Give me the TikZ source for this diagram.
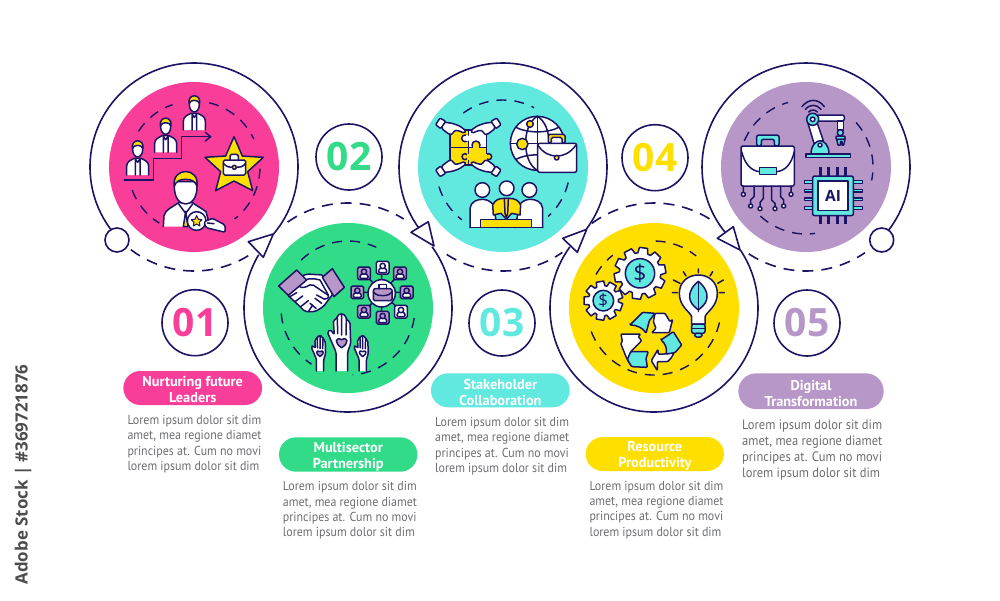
\documentclass[tikz,border=0pt]{standalone}
\usepackage{fontspec}
\setmainfont{PT Sans}[FakeStretch=0.92]
\newfontfamily\pillf{PT Sans}
\newfontfamily\numf{Open Sans}[Scale=1]
\newfontfamily\markf{Open Sans}
\definecolor{nv}{HTML}{1B1464}
\definecolor{pk}{HTML}{F93E99}
\definecolor{gr}{HTML}{31DB88}
\definecolor{cy}{HTML}{61E9DF}
\definecolor{ye}{HTML}{FFDF00}
\definecolor{pu}{HTML}{B797C8}
\definecolor{tx}{HTML}{6D6E71}
\tikzset{
  ln/.style={draw=nv,line width=1.5pt,line join=round,line cap=round},
  ring/.style={draw=nv,line width=1.6pt},
  dsh/.style={draw=nv,line width=1.6pt,dash pattern=on 11pt off 8pt},
  idsh/.style={draw=nv,line width=1.4pt,dash pattern=on 10pt off 8pt},
  numc/.style={circle,draw=nv,line width=1.6pt,fill=white,minimum size=66pt,inner sep=0,font=\numf\bfseries\fontsize{39}{39}\selectfont},
  pill/.style={rounded corners=17pt,inner sep=0,align=center,text=white,font=\pillf\bfseries\fontsize{14.3}{16}\selectfont},
  body/.style={anchor=north west,inner sep=0,align=left,text=tx,font=\fontsize{13}{15.3}\selectfont},
  head/.style={draw=nv,line width=1.6pt,fill=white,line join=round},
}
\newcommand\strutp{\rule{0pt}{14pt}}
\newcommand\ringarc[5]{\draw[#1] ([shift={(#3:#4)}]#2) arc[start angle=#3,end angle=#5,radius=#4];}
\newcommand\smallp[2]{\begin{scope}[shift={(#1,#2)}]
  \draw[ln,fill=white] (-33,0) -- (-33,-26) .. controls (-33,-40) and (-22,-44) .. (-10,-50) -- (10,-50) .. controls (22,-44) and (33,-40) .. (33,-26) -- (33,0);
  \draw[ln] (-7,0) -- (-7,-48) -- (0,-38) -- (7,-48) -- (7,0);
  \draw[ln,fill=white] (0,-76) ellipse[x radius=15,y radius=22];
  \draw[ln,fill=ye] (-16,-80) .. controls (-20,-110) and (20,-110) .. (16,-80) .. controls (10,-92) and (-10,-92) .. (-16,-80) -- cycle;
\end{scope}}
\newcommand\handp[4]{\begin{scope}[shift={(#1,#2)},xscale=#3,yscale=#3]
  \draw[ln,fill=white,rounded corners=1.5pt] (-17,0) -- (-17,-57) -- (-43,-117) -- (-33,-124) -- (-22,-108) -- (-25,-152) -- (-14,-157) -- (-13,-167) -- (0,-172) -- (11,-167) -- (14,-155) -- (25,-147) -- (27,-82) -- (18,-57) -- (18,0);
  \draw[ln] (-13,-160) -- (-12,-112) (0,-172) -- (0,-108) (14,-155) -- (13,-108);
  \draw[ln,fill=#4] (0,-70) .. controls (-24,-84) and (-18,-104) .. (0,-94) .. controls (18,-104) and (24,-84) .. (0,-70) -- cycle;
\end{scope}}
\newcommand\tilep[3]{\begin{scope}[shift={(#1,#2)}]
  \draw[ln,fill=#3,rounded corners=1.5pt] (-19,-19) rectangle (19,19);
  \draw[ln,fill=white,rounded corners=1pt] (-12,15) -- (-12,6) -- (-5,1) -- (5,1) -- (12,6) -- (12,15) -- cycle;
  \draw[ln,fill=#3] (0,-5) circle[radius=8];
\end{scope}}
\newcommand\gearp[7]{% cx cy router rinner teeth rot innerr
  \draw[ln,fill=white] ({#1+#4*cos(#6)},{#2+#4*sin(#6)})
   \foreach \i [evaluate=\i as \a using {#6+\i*360/#5}] in {0,...,\numexpr#5-1\relax}{
    -- ({#1+#4*cos(\a+4)},{#2+#4*sin(\a+4)})
    -- ({#1+#3*cos(\a+9)},{#2+#3*sin(\a+9)})
    -- ({#1+#3*cos(\a+360/#5-9)},{#2+#3*sin(\a+360/#5-9)})
    -- ({#1+#4*cos(\a+360/#5-4)},{#2+#4*sin(\a+360/#5-4)})
   } -- cycle;
  \draw[ln,fill=cy] (#1,#2) circle[radius=#7];
}
\newcommand\puzhand{%
  \draw[ln,fill=white,rounded corners=1.5pt] (-76,-76) -- (-48,-72) -- (-26,-64) -- (-7,-50) -- (-12,-42) -- (-28,-50) -- (-44,-50) -- (-46,-40) -- (-56,-38) -- (-80,-56) -- cycle;
  \draw[ln,fill=white,rounded corners=1pt] (-98,-68) -- (-85,-88) -- (-68,-78) -- (-83,-56) -- cycle;
}
\begin{document}
\begin{tikzpicture}[x=1pt,y=-1pt]
\useasboundingbox (0,0) rectangle (1000,600);
\fill[white] (0,0) rectangle (1000,600);
% centres
\coordinate (c1) at (194,167);
\coordinate (c2) at (348,308);
\coordinate (c3) at (503,167);
\coordinate (c4) at (654,308);
\coordinate (c5) at (806,167);
% colour discs
\fill[pk] (c1) circle[radius=85];
\fill[gr] (c2) circle[radius=85];
\fill[cy] (c3) circle[radius=85];
\fill[ye] (c4) circle[radius=85];
\fill[pu] (c5) circle[radius=85];
% rings
\ringarc{ring}{c1}{136.5}{104}{400}
\ringarc{ring}{c2}{210.8}{104}{-36}
\ringarc{ring}{c3}{143.7}{104}{396.5}
\ringarc{ring}{c4}{216}{104}{-34}
\ringarc{ring}{c5}{140.6}{104}{397.5}
\ringarc{dsh}{c1}{127.4}{104}{55.5}
\ringarc{dsh}{c2}{234.9}{105}{302}
\ringarc{dsh}{c3}{122.8}{104}{55.2}
\ringarc{dsh}{c4}{233.7}{105}{302.8}
\ringarc{dsh}{c5}{123.4}{104}{55.5}
% arrowheads
\draw[head] (248.3,241.7) -- (273.3,234) -- (263.3,257.3) -- cycle;
\draw[head] (411,232.3) -- (428.3,221.7) -- (434,246) -- cycle;
\draw[head] (562.7,238.3) -- (586.7,229.3) -- (577.3,252.3) -- cycle;
\draw[head] (717.3,238.3) -- (733.3,226.7) -- (740,250) -- cycle;
% end circles
\node[circle,draw=nv,line width=1.6pt,fill=white,minimum size=24pt,inner sep=0] (startc) at (117,240) {};
\node[circle,draw=nv,line width=1.6pt,fill=white,minimum size=24pt,inner sep=0] (endc) at (881.7,240) {};
% inner dashes
\ringarc{idsh}{c1}{212.8}{66}{251}
\ringarc{idsh}{c1}{283.3}{66}{335}
\ringarc{idsh}{c1}{1.4}{66}{52}
\ringarc{idsh}{c1}{159.6}{66}{121.7}
\ringarc{idsh}{c2}{225.6}{67}{295}
\ringarc{idsh}{c2}{175.3}{67}{123}
\ringarc{idsh}{c2}{8.6}{67}{86}
\ringarc{idsh}{c3}{233.6}{67}{297.7}
\ringarc{idsh}{c3}{163}{67}{128}
\ringarc{idsh}{c3}{13.4}{67}{47.7}
\ringarc{idsh}{c4}{210}{67}{232}
\ringarc{idsh}{c4}{271.4}{67}{309}
\ringarc{idsh}{c4}{159.5}{67}{8.4}
\ringarc{idsh}{c5}{203}{67}{254.5}
\ringarc{idsh}{c5}{318.4}{67}{371.6}
\ringarc{idsh}{c5}{132.8}{67}{82.3}
% numbers
\node[numc,text=pk] (n1) at (195,322.7) {01};
\node[numc,text=gr] (n2) at (349,157) {02};
\node[numc,text=cy] (n3) at (502,323) {03};
\node[numc,text=ye] (n4) at (655,157.7) {04};
\node[numc,text=pu] (n5) at (807,323) {05};
% pills
\node[pill,fill=pk,minimum width=138.7pt,minimum height=34pt] (p1) at (192.7,388) {\strutp Nurturing future\\Leaders};
\node[pill,fill=gr,minimum width=138.3pt,minimum height=34.4pt] (p2) at (348.2,454.5) {\strutp Multisector\\Partnership};
\node[pill,fill=cy,minimum width=138.7pt,minimum height=34pt] (p3) at (500.3,390.3) {\strutp Stakeholder\\Collaboration};
\node[pill,fill=ye,minimum width=138.3pt,minimum height=34pt] (p4) at (654.8,454) {\strutp Resource\\Productivity};
\node[pill,fill=pu,minimum width=145.4pt,minimum height=35.7pt,rounded corners=17.8pt] (p5) at (811,391.2) {\strutp Digital\\Transformation};
% body
\node[body] (b1) at (127.3,415) {Lorem ipsum dolor sit dim\\amet, mea regione diamet\\principes at. Cum no movi\\lorem ipsum dolor sit dim};
\node[body] (b2) at (282.7,481.5) {Lorem ipsum dolor sit dim\\amet, mea regione diamet\\principes at. Cum no movi\\lorem ipsum dolor sit dim};
\node[body] (b3) at (435,417) {Lorem ipsum dolor sit dim\\amet, mea regione diamet\\principes at. Cum no movi\\lorem ipsum dolor sit dim};
\node[body] (b4) at (589.3,480.8) {Lorem ipsum dolor sit dim\\amet, mea regione diamet\\principes at. Cum no movi\\lorem ipsum dolor sit dim};
\node[body,font=\fontsize{13.6}{16}\selectfont] (b5) at (742,419.5) {Lorem ipsum dolor sit dim\\amet, mea regione diamet\\principes at. Cum no movi\\lorem ipsum dolor sit dim};
% stock mark
\node[rotate=90,inner sep=0,text=black!70,font=\markf\bfseries\fontsize{16.9}{18}\selectfont] (mark) at (23,474.5) {Adobe Stock | \#369721876};

%%%% zoom 1 icons
\begin{scope}[shift={(80,50)},x=.33333pt,y=-.33333pt]
 % stairs
 \smallp{343}{240}\smallp{257}{307}\smallp{173}{375}
 \draw[ln] (133,390) -- (220,390) -- (220,325) -- (305,325) -- (305,260) -- (392,260);
 \draw[ln] (376,247) -- (392,260) -- (376,273);
 % star
 \draw[ln,fill=ye] (462,260) -- (487,318) -- (550,322) -- (503,365) -- (518,422) -- (462,393) -- (407,422) -- (422,365) -- (375,322) -- (437,318) -- cycle;
 \draw[ln,fill=white,rounded corners=1.5pt] (450,330) -- (450,313) -- (475,313) -- (475,330);
 \draw[ln,fill=white,rounded corners=1.5pt] (430,330) rectangle (497,375);
 \draw[ln] (430,340) .. controls (440,352) and (450,352) .. (457,352) (469,352) .. controls (478,352) and (488,352) .. (497,340);
 \draw[ln,fill=ye] (463,352) circle[radius=6];
 % big person
 \draw[ln,fill=white] (250,530) -- (252,497) .. controls (256,478) and (280,470) .. (296,458) -- (338,458) .. controls (350,468) and (365,475) .. (378,485) -- (390,530);
 \draw[ln,fill=white] (283,410) .. controls (283,445) and (300,462) .. (317,462) .. controls (334,462) and (351,445) .. (351,410) -- (351,395) -- (283,395) -- cycle;
 \draw[ln,fill=ye] (283,408) .. controls (275,350) and (359,350) .. (351,408) .. controls (345,395) and (338,388) .. (317,388) .. controls (296,388) and (289,395) .. (283,408) -- cycle;
 \draw[ln] (296,462) -- (317,490) -- (338,462);
 \draw[ln,fill=ye] (317,484) -- (310,530) -- (324,530) -- cycle;
 \draw[ln,fill=white] (350,513) circle[radius=28];
 \draw[ln,fill=ye,line width=1pt] (350,497) -- (355,508) -- (366,509) -- (358,517) -- (360,528) -- (350,522) -- (340,528) -- (342,517) -- (334,509) -- (345,508) -- cycle;
 \draw[ln,fill=white,rounded corners=1.5pt] (372,515) -- (398,505) -- (435,525) -- (436,547) -- (378,533) -- cycle;
 \draw[ln] (382,519) -- (402,521);
 % handshake
 \draw[ln,fill=white,rounded corners=2pt] (640,690) -- (680,672) -- (730,675) -- (760,730) -- (730,770) -- (705,785) -- (675,785) -- (650,760) -- (622,735) -- cycle;
 \draw[ln] (655,705) .. controls (680,680) and (700,685) .. (720,690) -- (745,735);
 \draw[ln,fill=white,rounded corners=2pt] (655,705) .. controls (662,720) and (680,710) .. (695,702) -- (748,738) -- (738,750) -- (710,735);
 \draw[ln] (630,740) -- (650,728) (645,755) -- (668,738) (662,770) -- (685,752) (685,785) -- (698,765);
 \draw[ln] (725,760) -- (705,745) (708,775) -- (690,760);
 \draw[ln,fill=pu] (596,708) -- (650,660) -- (680,690) -- (625,736) -- cycle;
 \draw[ln,fill=pu] (727,682) -- (757,656) -- (793,712) -- (762,740) -- cycle;
 % network
 \draw[ln] (905,645) -- (905,815) (832,727) -- (980,727) (852,670) -- (963,785) (960,670) -- (852,785);
 \tilep{908}{653}{white}\tilep{960}{670}{pu}\tilep{980}{727}{pu}\tilep{963}{785}{white}
 \tilep{908}{803}{pu}\tilep{852}{785}{pu}\tilep{832}{727}{pu}\tilep{852}{670}{pu}
 \draw[ln,fill=white] (905,730) circle[radius=41];
 \draw[ln,fill=pu,rounded corners=1.5pt] (880,716) rectangle (936,752);
 \draw[ln] (897,716) -- (897,704) -- (919,704) -- (919,716);
 \draw[ln] (880,726) .. controls (890,737) and (900,737) .. (908,737) .. controls (916,737) and (926,737) .. (936,726);
 % hands
 \handp{785}{963}{1}{pu}
 \handp{720}{963}{.62}{pu}
 \handp{848}{963}{.62}{white}
\end{scope}

%%%% zoom 2 icons
\begin{scope}[shift={(390,50)},x=.33333pt,y=-.33333pt]
 % puzzle
 \draw[ln,fill=ye] (180,240) rectangle (290,345);
 \draw[ln,fill=white] (235,240) rectangle (290,292);
 \draw[ln,fill=white] (225,265) circle[radius=10];
 \fill[white] (229,256) rectangle (239,274);
 \draw[ln] (180,292) -- (235,292) (235,240) -- (235,256) (235,274) -- (235,310) (235,330) -- (235,345);
 \draw[ln,fill=ye] (258,285) circle[radius=12];
 \draw[ln,fill=ye] (296,320) circle[radius=9];
 \draw[ln,fill=ye] (225,320) circle[radius=9];
 \fill[ye] (238,294) rectangle (288,343);
 \fill[ye] (230,311) rectangle (238,329);
 \fill[ye] (282,311) rectangle (292,329);
 \fill[ye] (248,288) rectangle (268,296);
 \begin{scope}[shift={(235,292)}]
  \puzhand
  \begin{scope}[xscale=-1]\puzhand\end{scope}
  \begin{scope}[yscale=-1]\puzhand\end{scope}
  \begin{scope}[xscale=-1,yscale=-1]\puzhand\end{scope}
 \end{scope}
 % globe
 \draw[ln,fill=white] (442,280) circle[radius=81];
 \draw[ln] (442,199) .. controls (395,225) and (395,335) .. (442,361);
 \draw[ln] (442,199) .. controls (489,225) and (489,335) .. (442,361);
 \draw[ln] (442,199) -- (442,361) (361,280) -- (523,280);
 \draw[ln] (378,232) .. controls (410,250) and (475,250) .. (506,232);
 \draw[ln] (378,328) .. controls (410,310) and (475,310) .. (506,328);
 \draw[ln,fill=ye] (397,282) circle[radius=17];
 \draw[ln,fill=ye] (420,222) circle[radius=10];
 \draw[ln,fill=ye,rounded corners=1.5pt] (475,280) -- (475,253) -- (525,253) -- (525,280) -- (516,280) -- (516,262) -- (484,262) -- (484,280) -- cycle;
 \draw[ln,fill=white,rounded corners=2pt] (443,280) rectangle (560,367);
 \draw[ln] (443,285) .. controls (460,310) and (480,318) .. (500,318) .. controls (520,318) and (540,310) .. (558,285);
 \draw[ln,fill=ye] (500,323) circle[radius=7];
 % people
 \draw[ln,fill=white] (277,420) circle[radius=22];
 \draw[ln,fill=white] (350,415) circle[radius=22];
 \draw[ln,fill=white] (418,420) circle[radius=22];
 \draw[ln,fill=white] (240,533) -- (240,475) .. controls (242,455) and (262,447) .. (280,448) .. controls (295,450) and (302,455) .. (310,465) -- (322,533);
 \draw[ln,fill=white] (458,533) -- (458,475) .. controls (456,455) and (436,447) .. (418,448) .. controls (403,450) and (396,455) .. (388,465) -- (376,533);
 \draw[ln,fill=ye] (310,495) -- (308,465) .. controls (315,450) and (325,445) .. (345,445) -- (355,445) .. controls (375,445) and (385,450) .. (392,465) -- (390,495) -- (365,490) -- (349,508) -- (333,490) -- cycle;
 \draw[ln] (343,445) -- (345,490) -- (349,503) -- (353,490) -- (355,445);
 \draw[ln] (240,533) -- (458,533);
 \draw[ln,fill=ye] (272,508) rectangle (425,533);
 % gears
 \gearp{750}{670}{78}{62}{10}{8}{44}
 \node[inner sep=0,text=nv,font=\numf\fontsize{23}{23}\selectfont] (dollar1) at (750,670) {\$};
 \gearp{640}{752}{59}{45}{9}{0}{31}
 \node[inner sep=0,text=nv,font=\numf\fontsize{17}{17}\selectfont] (dollar2) at (640,752) {\$};
 % bulb
 \draw[ln] (850,690) -- (870,700) (880,665) -- (888,678) (925,657) -- (925,668) (968,665) -- (960,678) (1000,690) -- (983,700) (1003,728) -- (988,728) (847,728) -- (862,728);
 \draw[ln,fill=white] (905,822) -- (905,800) .. controls (900,785) and (868,770) .. (868,730) .. controls (868,695) and (895,675) .. (925,675) .. controls (955,675) and (982,695) .. (982,730) .. controls (982,770) and (950,785) .. (945,800) -- (945,822) -- cycle;
 \draw[ln,fill=cy] (925,694) .. controls (905,710) and (890,735) .. (905,760) .. controls (912,770) and (920,775) .. (925,780) .. controls (930,775) and (938,770) .. (945,760) .. controls (960,735) and (945,710) .. (925,694) -- cycle;
 \draw[ln] (925,694) -- (925,785);
 \draw[ln,fill=cy,rounded corners=2pt] (905,822) rectangle (945,850);
 \draw[ln] (905,836) -- (945,836);
 \draw[ln,fill=cy,rounded corners=2pt] (914,850) rectangle (936,861);
 % recycle
 \draw[ln,fill=white,rounded corners=1pt] (795,790) -- (825,790) -- (840,815) -- (848,808) -- (838,848) -- (785,848) -- (798,835) -- (790,815) -- cycle;
 \draw[ln,fill=cy,rounded corners=1pt] (720,825) -- (758,787) -- (795,790) -- (778,812) -- (768,850) .. controls (760,835) and (740,825) .. (720,825) -- cycle;
 \draw[ln,fill=white,rounded corners=1pt] (692,880) -- (697,875) -- (693,852) -- (752,852) -- (745,860) -- (755,872) -- (722,905) -- (722,925) -- (725,950) -- (710,925) -- cycle;
 \draw[ln,fill=cy,rounded corners=1pt] (722,905) -- (775,905) -- (768,925) -- (772,952) -- (725,950) -- (712,928) -- cycle;
 \draw[ln,fill=white,rounded corners=1pt] (852,908) .. controls (845,922) and (840,930) .. (832,935) -- (802,935) -- (802,962) -- (784,932) -- (804,898) -- (804,912) -- (825,912) -- cycle;
 \draw[ln,fill=cy,rounded corners=1pt] (813,870) -- (850,845) -- (875,885) -- (855,908) -- (828,912) .. controls (832,895) and (825,880) .. (813,870) -- cycle;
\end{scope}

%%%% zoom 3 icons
\begin{scope}[shift={(680,50)},x=.33333pt,y=-.33333pt]
 % briefcase
 \draw[ln,fill=cy,rounded corners=2pt] (230,288) -- (230,255) -- (297,255) -- (297,288) -- (283,288) -- (283,268) -- (244,268) -- (244,288) -- cycle;
 \draw[ln,fill=white,rounded corners=1.5pt] (183,288) rectangle (343,408);
 \draw[ln] (185,305) .. controls (195,345) and (215,362) .. (238,365) (290,365) .. controls (315,362) and (333,345) .. (343,305);
 \draw[ln,fill=cy] (238,353) rectangle (290,373);
 \draw[ln] (190,408) -- (190,428) (222,408) -- (222,440) -- (212,450) -- (212,462) (250,408) -- (250,445) -- (240,458) -- (240,470) (275,408) -- (275,450) -- (285,460) -- (285,470) (302,408) -- (302,440) -- (311,450) -- (311,462) (333,408) -- (333,428);
 \foreach \px/\py [count=\k] in {190/433,212/468,240/476,285/476,311/468,333/433}
  \draw[ln,fill=white] (\px,\py) circle[radius=6];
 % robot
 \draw[ln] (366,170) .. controls (385,145) and (415,145) .. (433,170);
 \draw[ln] (376,178) .. controls (390,162) and (410,162) .. (423,178);
 \draw[ln] (386,186) .. controls (393,178) and (405,178) .. (412,186);
 \draw[ln,fill=white,rounded corners=2pt] (410,195) rectangle (493,213);
 \draw[ln,fill=white] (473,213) rectangle (491,240);
 \draw[ln,fill=cy] (481,248) circle[radius=9];
 \draw[ln,fill=cy,rounded corners=1pt] (468,258) rectangle (495,268);
 \draw[ln,fill=cy] (470,268) -- (474,285) -- (481,285) -- (481,275) -- (486,275) -- (486,285) -- (491,285) -- (495,268) -- cycle;
 \draw[ln,fill=white] (384,220) -- (412,220) -- (430,272) -- (402,280) -- cycle;
 \draw[ln,fill=cy] (398,208) circle[radius=18];
 \draw[ln,fill=white] (398,208) circle[radius=7];
 \draw[ln,fill=cy] (393,312) .. controls (393,285) and (410,272) .. (420,272) .. controls (432,272) and (447,285) .. (447,312) -- cycle;
 \draw[ln,fill=white] (420,285) circle[radius=6];
 \draw[ln,fill=cy] (378,312) rectangle (512,322);
 % chip
 \foreach \v in {420,446,471,497}{
  \draw[nv,line width=3pt] (\v,352) -- (\v,378);
  \draw[nv,line width=3pt] (\v,497) -- (\v,522);
 }
 \foreach \v in {396,422,448,474}{
  \draw[ln,fill=cy] (374,{\v-4}) rectangle (398,{\v+4});
  \draw[ln,fill=cy] (520,{\v-4}) rectangle (547,{\v+4});
 }
 \draw[ln,fill=cy,rounded corners=2pt] (398,378) rectangle (520,497);
 \draw[ln,fill=white] (414,393) rectangle (504,482);
 \node[inner sep=0,text=nv,font=\numf\bfseries\fontsize{15.5}{15.5}\selectfont] (ailabel) at (459,437) {AI};
\end{scope}
\end{tikzpicture}
\end{document}
